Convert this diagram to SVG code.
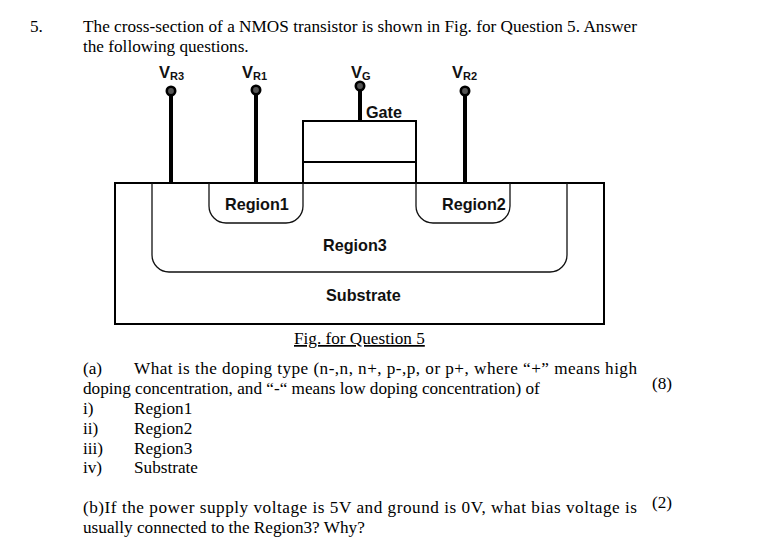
<svg xmlns="http://www.w3.org/2000/svg" width="775" height="548" viewBox="0 0 775 548">
<style>
.q{font-family:"Liberation Serif","Times New Roman",serif;font-size:17.2px;fill:#000}
.l{font-family:"Liberation Sans",Arial,sans-serif;font-size:16.2px;font-weight:700;fill:#111}
.v{font-size:16.5px}.s{font-size:11px}
.b{fill:none;stroke:#000;stroke-width:2}
.r{fill:none;stroke:#111;stroke-width:1.3}
.w{stroke:#000;stroke-width:4;fill:none}
.p{fill:#555;stroke:#000;stroke-width:2.6}
</style>
<rect width="775" height="548" fill="#fff"/>
<g id="question-text">
<text class="q" x="30" y="32">5.</text>
<text class="q" x="83" y="32" textLength="554" lengthAdjust="spacing">The cross-section of a NMOS transistor is shown in Fig. for Question 5. Answer</text>
<text class="q" x="83" y="52">the following questions.</text>
<text class="q" x="83" y="374">(a)</text>
<text class="q" x="134" y="374" textLength="503" lengthAdjust="spacing">What is the doping type (n-,n, n+, p-,p, or p+, where “+” means high</text>
<text class="q" x="83" y="394">doping concentration, and “-“ means low doping concentration) of</text>
<text class="q" x="652" y="389">(8)</text>
<text class="q" x="83" y="414">i)</text><text class="q" x="134" y="414">Region1</text>
<text class="q" x="83" y="434">ii)</text><text class="q" x="134" y="434">Region2</text>
<text class="q" x="83" y="454">iii)</text><text class="q" x="134" y="454">Region3</text>
<text class="q" x="83" y="473">iv)</text><text class="q" x="134" y="473">Substrate</text>
<text class="q" x="83" y="513" textLength="554" lengthAdjust="spacing">(b)If the power supply voltage is 5V and ground is 0V, what bias voltage is</text>
<text class="q" x="652" y="508">(2)</text>
<text class="q" x="83" y="533">usually connected to the Region3? Why?</text>
</g>
<g id="connectors">
<path class="w" d="M171 91V183M256 90V183M360 86V121M465 91V183"/>
</g>
<g id="substrate">
<rect class="b" x="115" y="183" width="489" height="141"/>
<text class="l" x="326" y="301">Substrate</text>
</g>
<g id="region3">
<path class="r" d="M152 183V255A17 17 0 0 0 169 272H550A17 17 0 0 0 567 255V183"/>
<text class="l" x="323" y="251">Region3</text>
</g>
<g id="region1">
<path class="r" d="M209 183V206A17 17 0 0 0 226 223H286A17 17 0 0 0 303 206V183"/>
<text class="l" x="225" y="210">Region1</text>
</g>
<g id="region2">
<path class="r" d="M416 183V206A17 17 0 0 0 433 223H493A17 17 0 0 0 510 206V183"/>
<text class="l" x="442" y="210">Region2</text>
</g>
<g id="gate">
<path class="b" d="M303 183V121H416V183M303 162H416"/>
<text class="l" x="366" y="118">Gate</text>
</g>
<g id="pin-vr3"><circle class="p" cx="171" cy="91" r="4.2"/><text class="l" x="159" y="78"><tspan class="v">V</tspan><tspan class="s" dy="2">R3</tspan></text></g>
<g id="pin-vr1"><circle class="p" cx="256" cy="90" r="4.2"/><text class="l" x="242" y="78"><tspan class="v">V</tspan><tspan class="s" dy="2">R1</tspan></text></g>
<g id="pin-vg"><circle class="p" cx="360" cy="86" r="4.2"/><text class="l" x="351" y="78"><tspan class="v">V</tspan><tspan class="s" dy="2">G</tspan></text></g>
<g id="pin-vr2"><circle class="p" cx="465" cy="91" r="4.2"/><text class="l" x="452" y="78"><tspan class="v">V</tspan><tspan class="s" dy="2">R2</tspan></text></g>
<g id="caption">
<text class="q" x="294" y="344" text-decoration="underline">Fig. for Question 5</text>
</g>
</svg>
